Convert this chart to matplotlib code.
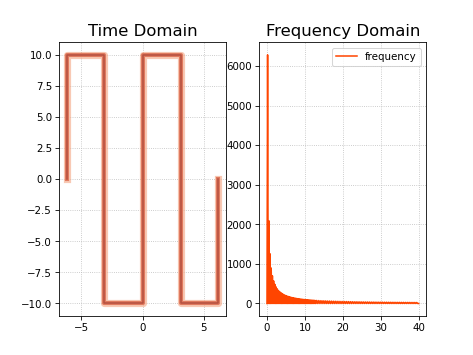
import matplotlib
matplotlib.use("Agg")
import matplotlib.pyplot as plt

# time domain: corners of the square wave
t_pts = [-6.2, -6.2, -3.14, -3.14, 0.0, 0.0, 3.14, 3.14, 6.2, 6.2]
amp_pts = [0, 10, 10, -10, -10, 10, 10, -10, -10, 0]

# frequency domain: peaks at odd harmonics
peak_freq = [0.16, 0.48, 0.80, 1.11, 1.43, 1.75, 2.07, 2.39, 2.71, 3.02,
             3.34, 3.66, 3.98, 4.30, 4.62, 4.93, 5.25, 5.57, 5.89, 6.21,
             6.53, 6.84, 7.16, 7.48, 7.80, 8.12, 8.44, 8.75, 9.07, 9.39,
             9.71, 10.03, 10.35, 10.66, 10.98, 11.30, 11.62, 11.94, 12.25, 12.57]
peak_mag = [6280, 2090, 1255, 897, 698, 571, 483, 419, 369, 330,
            299, 273, 251, 232, 216, 202, 190, 179, 170, 161,
            153, 146, 140, 134, 128, 123, 118, 114, 110, 106,
            103, 100, 96, 94, 91, 88, 86, 83, 81, 79]
# tail, sampled coarser
tail_freq = [13.0, 13.5, 14.0, 14.5, 15.0, 15.5, 16.0, 16.5, 17.0, 17.5,
             18.0, 18.5, 19.0, 19.5, 20.0, 20.5, 21.0, 21.5, 22.0, 22.5,
             23.0, 23.5, 24.0, 24.5, 25.0, 25.5, 26.0, 26.5, 27.0, 27.5,
             28.0, 28.5, 29.0, 29.5, 30.0, 30.5, 31.0, 31.5, 32.0, 32.5,
             33.0, 33.5, 34.0, 34.5, 35.0, 35.5, 36.0, 36.5, 37.0, 37.5,
             38.0, 38.5, 39.0, 39.5]
tail_mag = [77, 74, 71, 69, 67, 65, 62, 61, 59, 57,
            56, 54, 53, 51, 50, 49, 48, 47, 45, 44,
            43, 43, 42, 41, 40, 39, 38, 38, 37, 36,
            36, 35, 34, 34, 33, 33, 32, 32, 31, 31,
            30, 30, 29, 29, 29, 28, 28, 27, 27, 27,
            26, 26, 26, 25]
freq_end = 40.0

# spectrum line: drops to zero between harmonics
all_freq = peak_freq + tail_freq
all_mag = peak_mag + tail_mag
fx = [0.0]
fy = [0.0]
for i in range(len(all_freq)):
    fx.append(all_freq[i])
    fy.append(all_mag[i])
    nxt = all_freq[i + 1] if i + 1 < len(all_freq) else freq_end
    fx.append((all_freq[i] + nxt) / 2)
    fy.append(0)
fx.append(freq_end)
fy.append(0)

fig = plt.figure(figsize=(6.4, 4.8), dpi=74)

ax1 = fig.add_subplot(1, 2, 1)
ax1.plot(t_pts, amp_pts, color='#f4a582', lw=7, alpha=0.6, solid_joinstyle='round')
ax1.plot(t_pts, amp_pts, color='#e07a5f', lw=4, solid_joinstyle='round')
ax1.plot(t_pts, amp_pts, color='#b5503f', lw=1.5)
ax1.set_title('Time Domain', fontsize=16)
ax1.grid(True, linestyle=':', color='#bbbbbb')

ax2 = fig.add_subplot(1, 2, 2)
ax2.plot(fx, fy, color='#ff4500', lw=1.5, label='frequency')
ax2.set_title('Frequency Domain', fontsize=16)
ax2.grid(True, linestyle=':', color='#bbbbbb')
ax2.legend(loc='upper right')

plt.savefig('out.png', dpi=74)
